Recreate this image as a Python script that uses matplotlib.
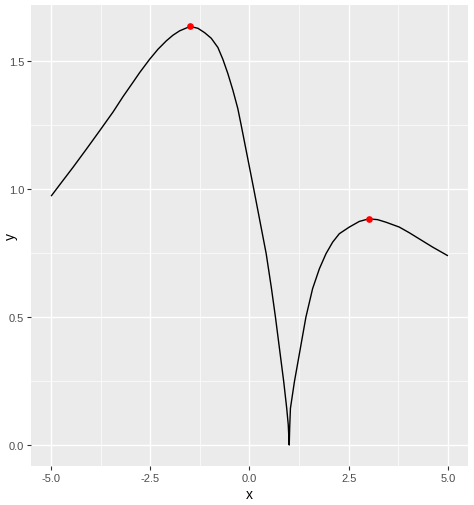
import numpy as np
import matplotlib
matplotlib.use("Agg")
import matplotlib.pyplot as plt

plt.rcParams['font.family'] = ['Liberation Sans', 'DejaVu Sans']
plt.rcParams['axes.unicode_minus'] = False

# curve values
x_vals = [-4.983, -4.774, -4.44, -4.104, -3.769, -3.434, -3.183, -2.932,
          -2.764, -2.513, -2.304, -2.093, -1.926, -1.759, -1.591, -1.49,
          -1.299, -1.131, -0.963, -0.796, -0.671, -0.545, -0.42, -0.294,
          -0.209, 0.108, 0.42, 0.55, 0.653, 0.862, 0.937, 0.975, 1.0,
          1.012, 1.03, 1.13, 1.42, 1.588, 1.759, 1.926, 2.093, 2.261,
          2.513, 2.764, 3.0, 3.224, 3.434, 3.769, 4.02, 4.271, 4.606, 4.98]
y_vals = [0.975, 1.018, 1.086, 1.157, 1.229, 1.302, 1.362, 1.418,
          1.456, 1.508, 1.547, 1.580, 1.602, 1.619, 1.630, 1.636,
          1.629, 1.612, 1.590, 1.554, 1.508, 1.452, 1.388, 1.315,
          1.250, 1.000, 0.748, 0.615, 0.500, 0.247, 0.143, 0.080, 0.0,
          0.070, 0.143, 0.247, 0.500, 0.611, 0.689, 0.748, 0.793, 0.826,
          0.852, 0.874, 0.884, 0.881, 0.871, 0.852, 0.830, 0.806, 0.774, 0.741]

# local maxima marked in red
peak_x = [-1.49, 3.0]
peak_y = [1.636, 0.884]

fig = plt.figure(figsize=(4.74, 5.06), dpi=100)
ax = fig.add_axes([31/474, 39/506, 437/474, 461/506])
ax.set_facecolor('#EBEBEB')
for s in ax.spines.values():
    s.set_visible(False)

ax.plot(x_vals, y_vals, color='black', lw=1.0, zorder=3)
ax.plot(peak_x, peak_y, 'o', color='red', ms=3.8, zorder=4)

ax.set_xlim(-5.5, 5.5)
ax.set_ylim(-0.082, 1.72)
ax.set_xticks([-5, -2.5, 0, 2.5, 5])
ax.set_xticklabels(['-5.0', '-2.5', '0.0', '2.5', '5.0'])
ax.set_yticks([0, 0.5, 1.0, 1.5])
ax.set_yticklabels(['0.0', '0.5', '1.0', '1.5'])
ax.set_xticks([-3.75, -1.25, 1.25, 3.75], minor=True)
ax.set_yticks([0.25, 0.75, 1.25], minor=True)

ax.grid(which='major', color='white', lw=1.0)
ax.grid(which='minor', color='white', lw=0.5)
ax.set_axisbelow(True)
ax.tick_params(which='major', length=3, width=0.8, color='#333333',
               labelsize=8, labelcolor='#4D4D4D', pad=2)
ax.tick_params(which='minor', length=0)

ax.set_xlabel('x', fontsize=10, labelpad=3)
ax.set_ylabel('y', fontsize=10)
ax.yaxis.set_label_coords(-0.03, 0.5)

fig.savefig('out.png', dpi=100)
